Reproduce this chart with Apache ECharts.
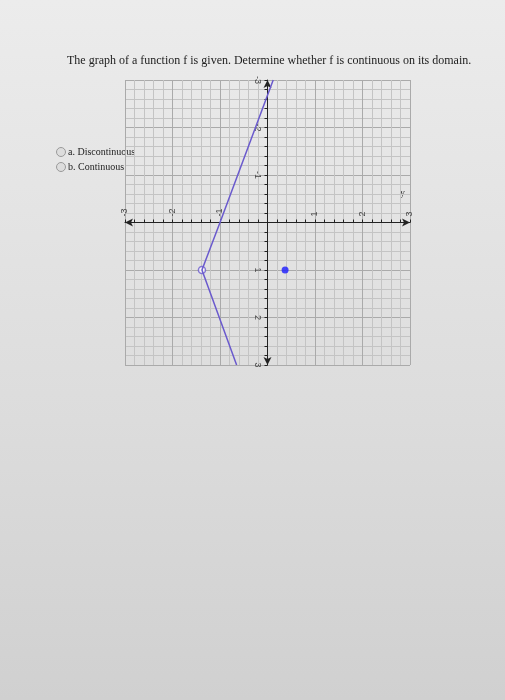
<!DOCTYPE html><html><head><meta charset="utf-8">
<script src="https://cdn.jsdelivr.net/npm/echarts@6/dist/echarts.min.js"></script>
<style>body{margin:0;background:linear-gradient(#ececec,#dcdcdc 60%,#d0d0d0);}#c{width:505px;height:700px;}</style></head><body><div id="c"></div>
<script>
const ticks=[-3,-2,-1,0,1,2,3];
const linePts=[[0.12,-3],[-1,0],[-1.38,1],[-0.65,3]];
const openPt=[[-1.38,1]];
const filledPt=[[0.37,1]];
const title='The graph of a function f is given. Determine whether f is continuous on its domain.';
const options=['a. Discontinuous','b. Continuous'];
const c=echarts.init(document.getElementById('c'));
const lab={rotate:-90,color:'#444',fontSize:9,margin:6,formatter:v=>v===0?'':String(v)};
const axLine={onZero:false,symbol:['arrow','arrow'],symbolSize:[6,8],lineStyle:{color:'#222'}};
c.setOption({
 animation:false,
 title:{text:title,left:62,top:50,textStyle:{fontFamily:'Liberation Serif',fontSize:12,fontWeight:'normal',color:'#222'}},
 graphic:[...options.map((t,i)=>({type:'group',left:56,top:147+i*15,children:[
  {type:'circle',shape:{cx:5,cy:5,r:4.5},style:{fill:'#ddd',stroke:'#999'}},
  {type:'text',x:12,y:0,style:{text:t,font:'10px Liberation Serif',fill:'#222'}}]})),
  {type:'text',left:400,top:188,style:{text:'y',font:'10px Liberation Serif',fill:'#333'}}],
 grid:{left:125,top:80,width:285,height:285},
 xAxis:{type:'value',min:-3,max:3,interval:1,position:'top',offset:-142.5,
  axisLine:axLine,
  axisTick:{show:true,length:3,lineStyle:{color:'#222'}},minorTick:{show:true,splitNumber:5,length:3,lineStyle:{color:'#222'}},
  axisLabel:lab,
  splitLine:{lineStyle:{color:'#aaa'}},minorSplitLine:{show:true,lineStyle:{color:'#c4c4c4'}}},
 yAxis:{type:'value',min:-3,max:3,interval:1,inverse:true,position:'left',offset:-142.5,
  axisLine:axLine,
  axisTick:{show:true,length:3,lineStyle:{color:'#222'}},minorTick:{show:true,splitNumber:5,length:3,lineStyle:{color:'#222'}},
  axisLabel:lab,
  splitLine:{lineStyle:{color:'#aaa'}},minorSplitLine:{show:true,lineStyle:{color:'#c4c4c4'}}},
 series:[
  {type:'line',data:linePts,showSymbol:false,lineStyle:{color:'#6a5acd',width:1.5},silent:true},
  {type:'scatter',data:openPt,symbolSize:7,itemStyle:{color:'#fff',borderColor:'#6a5acd',borderWidth:1.5}},
  {type:'scatter',data:filledPt,symbolSize:7,itemStyle:{color:'#1a1aff'}}
 ]});
</script></body></html>
